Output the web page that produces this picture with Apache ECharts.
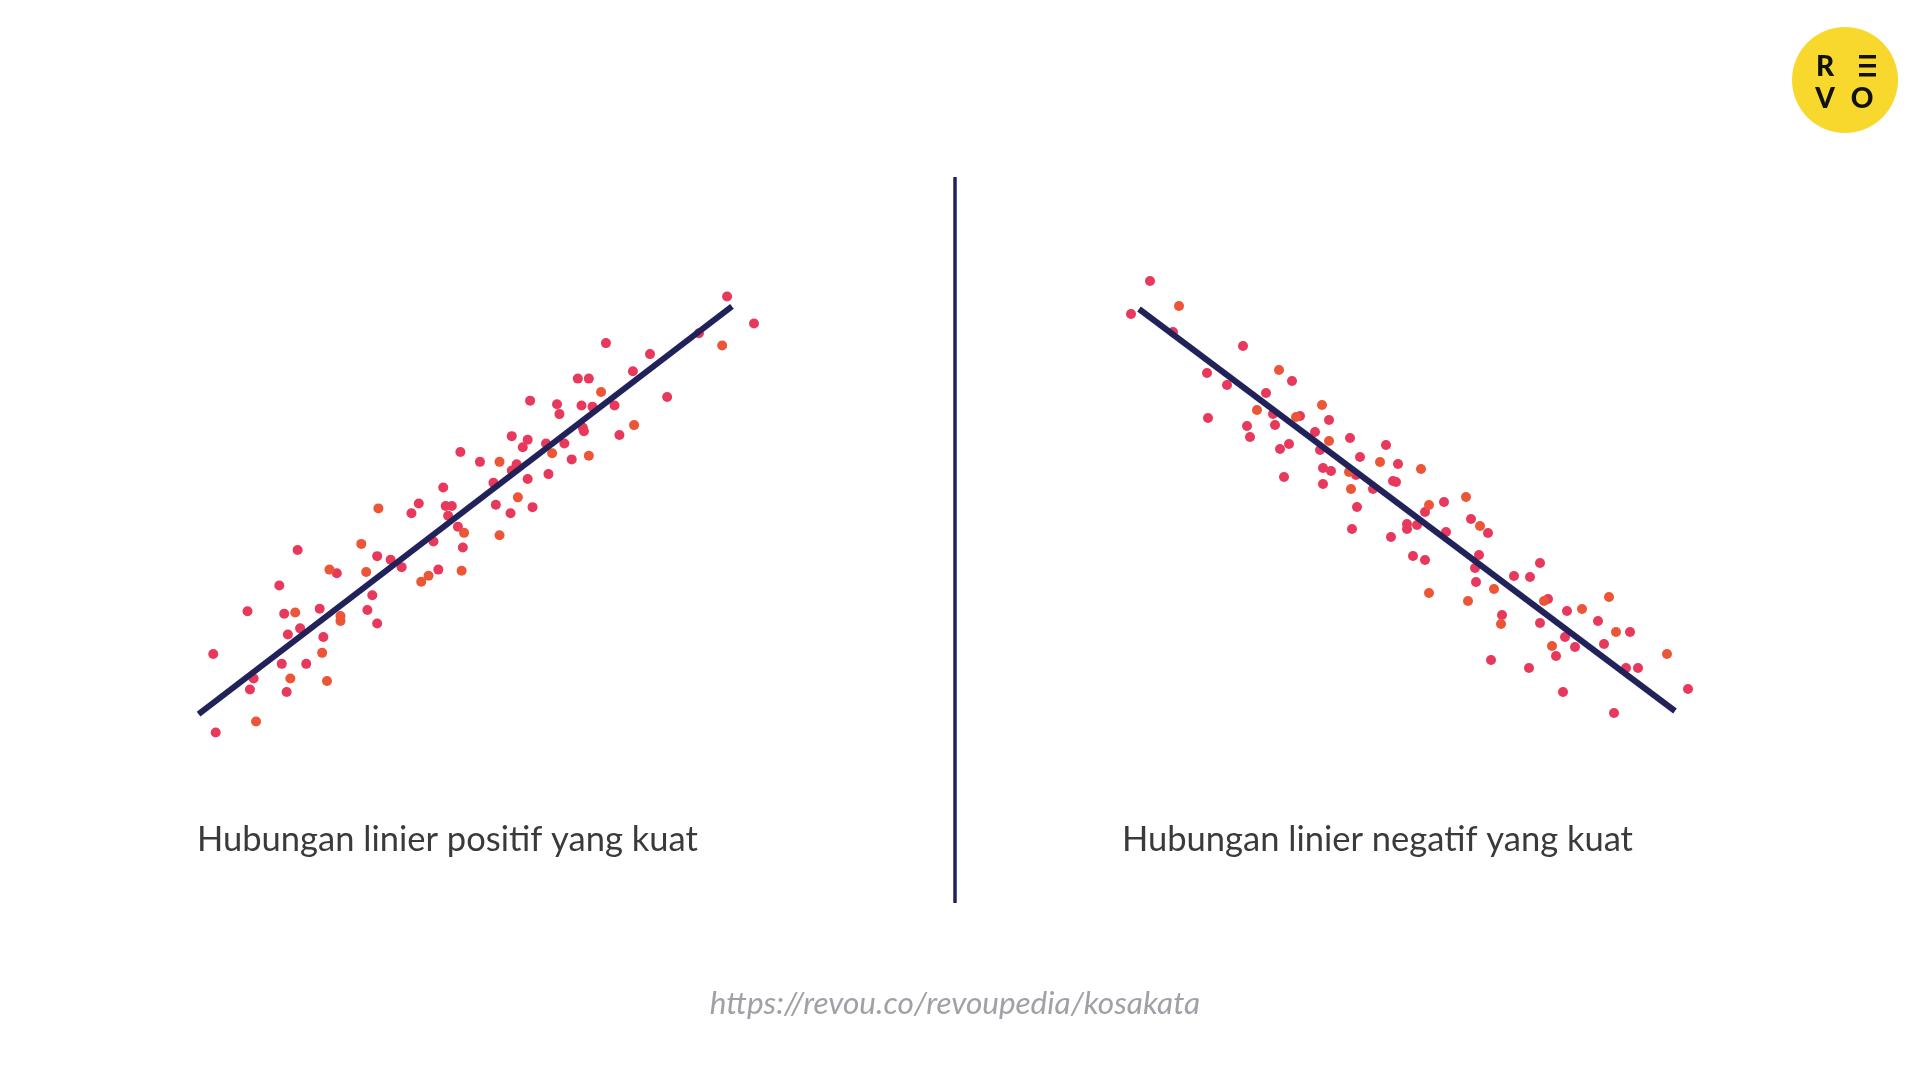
<!DOCTYPE html>
<html>
<head>
<meta charset="utf-8">
<script src="https://cdn.jsdelivr.net/npm/echarts@6/dist/echarts.min.js"></script>
<style>
html,body{margin:0;padding:0;background:#ffffff;}
#chart{width:1920px;height:1080px;}
</style>
</head>
<body>
<div id="chart"></div>
<script>
// Left panel (strong positive linear relationship)
const leftPink = [[21,7],[19,71],[49,42],[52,51],[47,106],[79,40],[75,63],[80,87],[90,92],[77,104],[73,127],[88,156],[95,63],[109,85],[106,108],[120,137],[153,151],[149,119],[145,107],[153,96],[164,148],[173,142],[181,186],[187,194],[207,207],[209,192],[214,192],[211,184],[219,175],[223,158],[199,163],[203,140],[221,236],[439,363],[461,341],[416,333],[340,325],[376,316],[362,302],[390,281],[317,296],[326,296],[278,278],[300,275],[320,274],[329,273],[347,274],[302,267],[351,250],[321,256],[322,253],[263,249],[276,246],[272,240],[291,243],[306,243],[312,230],[293,218],[237,228],[267,226],[263,221],[248,211],[276,214],[250,193],[262,186],[280,191]];
const leftOrange = [[54,16],[82,51],[86,105],[112,49],[108,72],[114,140],[123,102],[123,98],[140,161],[144,138],[154,190],[224,170],[222,139],[195,135],[189,130],[435,323],[336,285],[363,258],[296,235],[326,233],[253,228],[268,199],[253,168]];
const leftLine = [[7,22],[443,355]];

// Right panel (strong negative linear relationship)
const rightPink = [[30,449],[11,416],[53,398],[123,384],[87,357],[107,345],[172,349],[146,337],[88,312],[153,316],[127,304],[155,305],[130,293],[180,314],[209,310],[195,298],[200,280],[169,286],[160,281],[230,292],[240,273],[203,262],[211,259],[164,253],[203,246],[253,241],[237,223],[266,285],[278,266],[236,255],[273,249],[276,248],[232,201],[271,193],[305,218],[324,228],[287,206],[287,201],[297,205],[326,198],[351,211],[368,197],[293,174],[305,170],[359,175],[355,162],[356,148],[394,154],[410,153],[420,167],[382,115],[420,107],[428,131],[371,70],[409,62],[447,119],[478,109],[510,98],[445,93],[455,83],[484,86],[436,74],[506,62],[518,62],[443,38],[494,17],[568,41]];
const rightOrange = [[59,424],[159,360],[137,320],[176,313],[202,325],[209,289],[260,268],[229,258],[231,241],[301,261],[309,225],[346,233],[360,204],[309,137],[348,129],[374,141],[381,106],[424,129],[462,121],[489,133],[496,98],[432,84],[547,76]];
const rightLine = [[19,421],[555,19]];

const labels = ['Hubungan linier positif yang kuat', 'Hubungan linier negatif yang kuat'];
const sourceText = 'https://revou.co/revoupedia/kosakata';

const PINK = '#E8395C';
const ORANGE = '#EC5637';
const NAVY = '#22225A';

const chart = echarts.init(document.getElementById('chart'), null, {renderer:'canvas'});

function axisX(idx, max){ return {type:'value', gridIndex:idx, min:0, max:max, show:false}; }
function axisY(idx, max){ return {type:'value', gridIndex:idx, min:0, max:max, show:false}; }
function dots(name, idx, data, color){
  return {name:name, type:'scatter', xAxisIndex:idx, yAxisIndex:idx, data:data, symbolSize:10,
    itemStyle:{color:color, opacity:1}, z:2, silent:true};
}
function fitLine(idx, data){
  return {type:'line', xAxisIndex:idx, yAxisIndex:idx, data:data, symbol:'none',
    lineStyle:{color:NAVY, width:6, cap:'butt'}, z:3, silent:true};
}

chart.setOption({
  backgroundColor:'#ffffff',
  animation:false,
  grid:[
    {left:190, top:288, width:575, height:453},
    {left:1120, top:270, width:600, height:460}
  ],
  xAxis:[axisX(0,470), axisX(1,600)],
  yAxis:[axisY(0,370), axisY(1,460)],
  series:[
    dots('leftPink',0,leftPink,PINK),
    dots('leftOrange',0,leftOrange,ORANGE),
    fitLine(0,leftLine),
    dots('rightPink',1,rightPink,PINK),
    dots('rightOrange',1,rightOrange,ORANGE),
    fitLine(1,rightLine)
  ],
  graphic:[
    {type:'line', shape:{x1:955, y1:177, x2:955, y2:903}, style:{stroke:NAVY, lineWidth:3.5}},
    {type:'text', left:197, top:822, style:{text:labels[0], font:'34.5px Lato', fill:'#3a3a3a'}},
    {type:'text', left:1122, top:822, style:{text:labels[1], font:'34.5px Lato', fill:'#3a3a3a'}},
    {type:'text', x:955, y:1004, style:{text:sourceText, font:'italic 31.5px Lato', fill:'#a0a0a6', align:'center', verticalAlign:'middle'}},
    {type:'circle', shape:{cx:1845, cy:80, r:53}, style:{fill:'#F8D82C'}},
    {type:'text', x:1825, y:67, style:{text:'R', font:'900 28px Lato', fill:'#111', align:'center', verticalAlign:'middle'}},
    {type:'rect', shape:{x:1859, y:55, width:17, height:3.5}, style:{fill:'#111'}},
    {type:'rect', shape:{x:1859, y:64, width:17, height:3.5}, style:{fill:'#111'}},
    {type:'rect', shape:{x:1859, y:73, width:17, height:3.5}, style:{fill:'#111'}},
    {type:'text', x:1825, y:99, style:{text:'V', font:'900 28px Lato', fill:'#111', align:'center', verticalAlign:'middle'}},
    {type:'text', x:1862, y:99, style:{text:'O', font:'900 28px Lato', fill:'#111', align:'center', verticalAlign:'middle'}}
  ]
});
</script>
</body>
</html>
